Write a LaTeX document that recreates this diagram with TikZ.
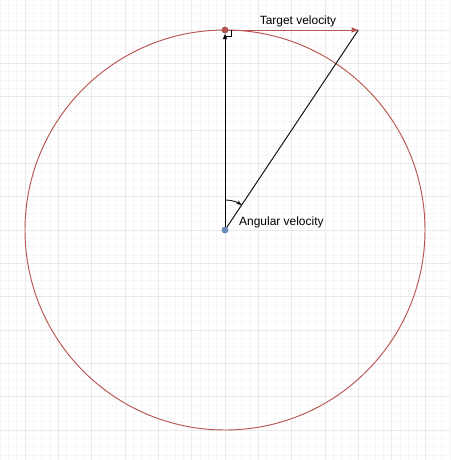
\documentclass[tikz,border=0pt]{standalone}
\usepackage{fontspec}
\setmainfont{Liberation Sans}
\usetikzlibrary{arrows.meta}
\definecolor{wheelred}{HTML}{B85450}
\definecolor{hubblue}{HTML}{6C8EBF}
\definecolor{gridminor}{HTML}{F6F6F6}
\definecolor{gridmajor}{HTML}{EAEAEA}

\begin{document}
\begin{tikzpicture}[dot/.style = {circle, inner sep=0pt, minimum size=0.19cm},
    txt/.style = {inner sep=0pt, font=\fontsize{10.2}{12}\selectfont}]
            \useasboundingbox (-6.75,-6.9) rectangle (6.75,6.9);
            \draw[gridminor, line width=0.5pt, step=0.25] (-6.75,-6.9) grid (6.75,6.9);
            \draw[gridmajor, line width=0.6pt, step=1] (-6.75,-6.9) grid (6.75,6.9);

            \node[dot, fill=hubblue, draw=hubblue!80!black, line width=0.3pt] (hub) at (0,0) {};
            \node[dot, fill=wheelred, draw=wheelred!80!black, line width=0.3pt] (rim) at (0,6) {};
            \coordinate (tip) at (4,6);

            \draw[wheelred, line width=0.8pt] (hub.center) circle (6);

            \draw[line width=0.8pt, -{Latex[length=1.7mm, width=1.4mm]}] (hub) -- (rim);
            \draw[line width=0.8pt] (hub) -- (tip);
            \draw[wheelred, line width=0.8pt, -{Triangle[length=2mm, width=1.5mm]}] (rim) -- (tip);

            % right angle and swept angle
            \draw[line width=0.7pt] ([yshift=-0.2cm]rim.center) -| ([xshift=0.2cm]rim.center);
            \draw[line width=0.7pt, -{Stealth[length=1.6mm]}] ([yshift=0.9cm]hub.center) arc[start angle=90, end angle=56.3, radius=0.9];

            \node[txt] (tv) at (2.19,6.26) {Target velocity};
            \node[txt, anchor=west] (av) at (0.42,0.22) {Angular velocity};
        \end{tikzpicture}
\end{document}
